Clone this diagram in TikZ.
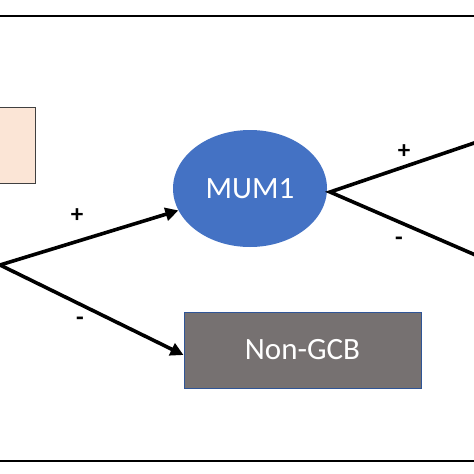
\documentclass[tikz,border=0pt]{standalone}
\usepackage{fontspec}
\setmainfont{Carlito}
\usetikzlibrary{shapes.geometric,arrows.meta}
\definecolor{peach}{RGB}{251,229,214}
\definecolor{mumblue}{RGB}{68,114,196}
\definecolor{boxgray}{RGB}{118,113,113}
\definecolor{boxedge}{RGB}{47,85,151}
\begin{document}
\begin{tikzpicture}[x=1pt,y=-1pt,
		link/.style={line width=3.6pt},
		sign/.style={font=\fontsize{25}{25}\selectfont\bfseries}]
			\clip (0,0) rectangle (474,474);
			\fill[white] (0,0) rectangle (474,474);
			\draw[line width=2pt] (0,15.5) -- (474,15.5);
			\draw[line width=2pt] (0,461) -- (474,461);
			\node[draw=darkgray, fill=peach, line width=1pt, minimum width=46pt, minimum height=76pt] (prev) at (12,145) {};
			\node[ellipse, fill=mumblue, inner sep=0pt, minimum width=154pt, minimum height=117pt, text=white, font=\fontsize{31}{31}\selectfont] (mum) at (250,188.5) {MUM1};
			\node[draw=boxedge, fill=boxgray, line width=1pt, minimum width=237pt, minimum height=76pt, text=white, font=\fontsize{31}{31}\selectfont] (nongcb) at (302.5,350) {Non-GCB};
			\coordinate (split) at (0,265);
			\coordinate (fork) at (330,192);
			\coordinate (upend) at (480,141);
			\coordinate (lowend) at (480,257);
			\draw[link, -{Triangle[length=13pt,width=13pt]}] (split) -- (mum);
			\draw[link, -{Triangle[length=13pt,width=13pt]}] (split) -- ([yshift=-5pt]nongcb.west);
			\draw[link] (upend) -- (fork) -- (lowend);
			\node[sign] at (77,216) {+};
			\node[sign] at (80,321) {-};
			\node[sign] at (404,152) {+};
			\node[sign] at (399,241) {-};
		\end{tikzpicture}
\end{document}
